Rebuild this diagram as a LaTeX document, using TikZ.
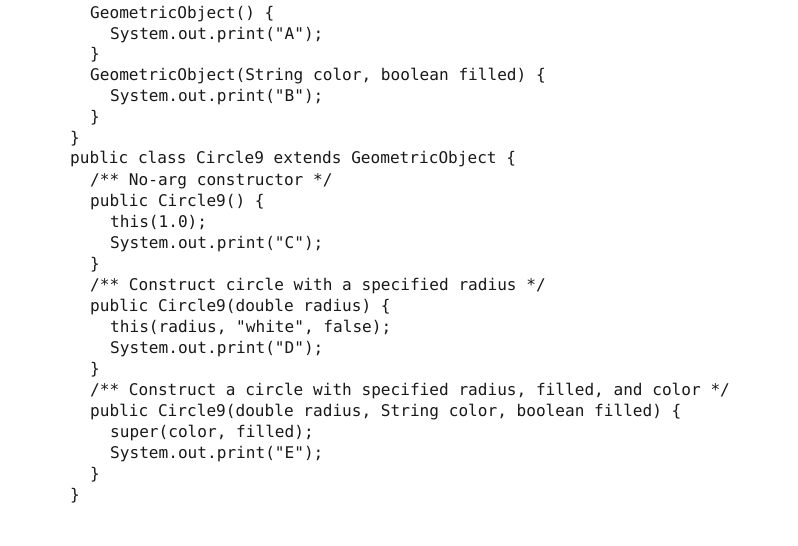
\documentclass[tikz,border=0pt]{standalone}
\usepackage{fontspec}
\setmonofont{DejaVu Sans Mono}
\begin{document}
\begin{tikzpicture}[x=1pt,y=-1pt,code/.style={anchor=base west,inner sep=0pt,font=\ttfamily\fontsize{16.1}{18}\selectfont,text=black!90}]
\useasboundingbox (0,0) rectangle (798,546);
\fill[white] (0,0) rectangle (798,546);
\def\L#1#2#3#4{\node[code] (#1) at (#2,#3) {#4};}
\L{l1}{90}{18}{GeometricObject() \{}
\L{l2}{110}{39}{System.out.print("A");}
\L{l3}{90}{59}{\}}
\L{l4}{90}{80}{GeometricObject(String color, boolean filled) \{}
\L{l5}{110}{101}{System.out.print("B");}
\L{l6}{90}{122}{\}}
\L{l7}{70}{143}{\}}
\L{l8}{70}{163}{public class Circle9 extends GeometricObject \{}
\L{l9}{90}{185}{/** No-arg constructor */}
\L{l10}{90}{206}{public Circle9() \{}
\L{l11}{110}{227}{this(1.0);}
\L{l12}{110}{248}{System.out.print("C");}
\L{l13}{90}{269}{\}}
\L{l14}{90}{290}{/** Construct circle with a specified radius */}
\L{l15}{90}{311}{public Circle9(double radius) \{}
\L{l16}{110}{332}{this(radius, "white", false);}
\L{l17}{110}{353}{System.out.print("D");}
\L{l18}{90}{374}{\}}
\L{l19}{90}{395}{/** Construct a circle with specified radius, filled, and color */}
\L{l20}{90}{416}{public Circle9(double radius, String color, boolean filled) \{}
\L{l21}{110}{437}{super(color, filled);}
\L{l22}{110}{458}{System.out.print("E");}
\L{l23}{90}{479}{\}}
\L{l24}{70}{500}{\}}
\end{tikzpicture}
\end{document}
